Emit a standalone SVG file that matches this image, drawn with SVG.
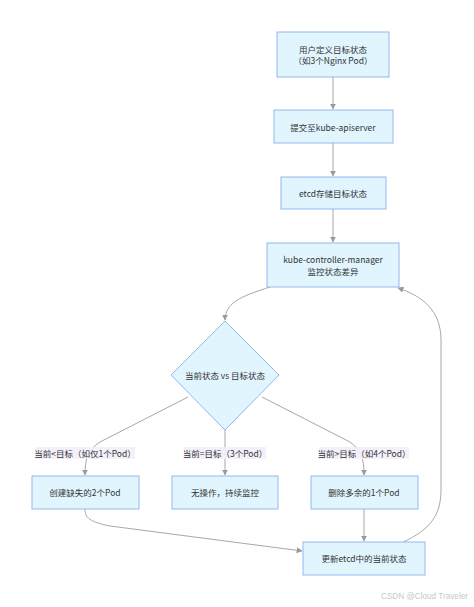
<svg xmlns="http://www.w3.org/2000/svg" width="474" height="607" viewBox="0 0 474 607">
<style>
.node{fill:#e1f5fe;stroke:#93b8ee;stroke-width:1}
.t{font-family:"Noto Sans CJK SC","Noto Sans",sans-serif;font-size:8.5px;fill:#333;text-anchor:middle;dominant-baseline:central}
.edge{fill:none;stroke:#a8a8a8;stroke-width:1}
.lbg{fill:#f3eefa;opacity:0.9}
.wm{font-family:"Liberation Sans",Arial,sans-serif;font-size:8.2px;fill:#c8c8c8}
</style>
<defs>
<marker id="arr" viewBox="0 0 10 10" refX="9" refY="5" markerWidth="6" markerHeight="6" orient="auto-start-reverse" markerUnits="userSpaceOnUse">
<path d="M0,0 L10,5 L0,10 z" fill="#999"/>
</marker>
</defs>
<rect width="474" height="607" fill="#ffffff"/>
<g id="connectors">
<path class="edge" d="M333,77 L333,109" marker-end="url(#arr)"/>
<path class="edge" d="M333,143 L333,176" marker-end="url(#arr)"/>
<path class="edge" d="M333,209 L333,242" marker-end="url(#arr)"/>
<path class="edge" d="M270,287 C246,295 225,301 225,320" marker-end="url(#arr)"/>
<path class="edge" d="M403,542 C430,530 441,515 441,490 L441,340 C441,310 422,296 398,288" marker-end="url(#arr)"/>
<path class="edge" d="M188,397 L100,442 C88,450 85,458 85,475" marker-end="url(#arr)"/>
<path class="edge" d="M225,430 L225,475" marker-end="url(#arr)"/>
<path class="edge" d="M262,397 L350,442 C361,450 364,458 364,475" marker-end="url(#arr)"/>
<path class="edge" d="M85,509 C85,518 90,522 110,526 L302,551" marker-end="url(#arr)"/>
<path class="edge" d="M364,509 L364,541" marker-end="url(#arr)"/>
</g>
<g id="labels">
<g id="label-less"><rect class="lbg" x="35" y="447" width="100" height="12"/><text class="t" x="85" y="453">当前&lt;目标（如仅1个Pod）</text></g>
<g id="label-eq"><rect class="lbg" x="184" y="447" width="82" height="12"/><text class="t" x="225" y="453">当前=目标（3个Pod）</text></g>
<g id="label-more"><rect class="lbg" x="319" y="447" width="90" height="12"/><text class="t" x="364" y="453">当前&gt;目标（如4个Pod）</text></g>
</g>
<g id="n1"><rect class="node" x="277" y="32" width="112" height="45"/><text class="t" x="333" y="49">用户定义目标状态</text><text class="t" x="333" y="60">（如3个Nginx Pod）</text></g>
<g id="n2"><rect class="node" x="274" y="110" width="119" height="33"/><text class="t" x="333" y="127">提交至kube-apiserver</text></g>
<g id="n3"><rect class="node" x="281" y="177" width="105" height="32"/><text class="t" x="333" y="193">etcd存储目标状态</text></g>
<g id="n4"><rect class="node" x="267" y="243" width="132" height="44"/><text class="t" x="333" y="259">kube-controller-manager</text><text class="t" x="333" y="271">监控状态差异</text></g>
<g id="n5"><polygon class="node" points="225,321 279,375 225,430 171,375"/><text class="t" x="225" y="375">当前状态 vs 目标状态</text></g>
<g id="n6"><rect class="node" x="32" y="476" width="107" height="33"/><text class="t" x="85" y="492">创建缺失的2个Pod</text></g>
<g id="n7"><rect class="node" x="172" y="476" width="106" height="33"/><text class="t" x="225" y="492">无操作，持续监控</text></g>
<g id="n8"><rect class="node" x="311" y="476" width="107" height="33"/><text class="t" x="364" y="492">删除多余的1个Pod</text></g>
<g id="n9"><rect class="node" x="303" y="542" width="122" height="33"/><text class="t" x="364" y="558">更新etcd中的当前状态</text></g>
<text class="wm" x="381" y="599">CSDN @Cloud Traveler</text>
</svg>
